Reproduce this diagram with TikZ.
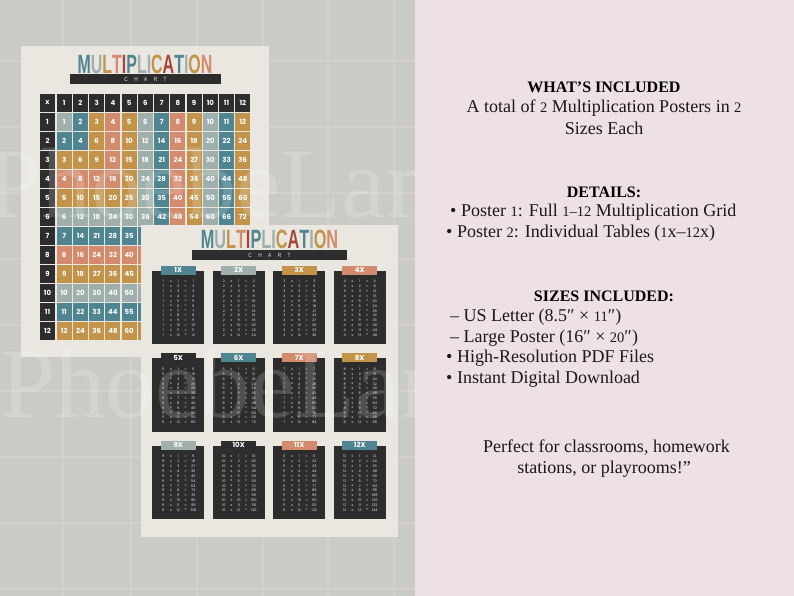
\documentclass[tikz,border=0pt]{standalone}
\usepackage{fontspec}
\setmainfont{Liberation Serif}
\newfontfamily\cellfont{Poppins}
\newfontfamily\titlefont{Liberation Sans}
\definecolor{wallbg}{HTML}{CBCBC6}
\definecolor{wallline}{HTML}{D4D1CD}
\definecolor{pinkbg}{HTML}{EEE1E3}
\definecolor{paper}{HTML}{EAE7E1}
\definecolor{inkdark}{HTML}{2D2D2D}
\definecolor{sagec}{HTML}{9FB0AC}
\definecolor{tealc}{HTML}{4F8491}
\definecolor{goldc}{HTML}{C3934A}
\definecolor{coralc}{HTML}{D48A6C}
\definecolor{redc}{HTML}{A8453A}
\newcommand{\multititle}{\textcolor{tealc}{M}\textcolor{sagec}{U}\textcolor{goldc}{L}\textcolor{coralc}{T}\textcolor{redc}{I}\textcolor{tealc}{P}\textcolor{sagec}{L}\textcolor{sagec}{I}\textcolor{goldc}{C}\textcolor{redc}{A}\textcolor{tealc}{T}\textcolor{sagec}{I}\textcolor{goldc}{O}\textcolor{coralc}{N}}
\newcommand{\chartword}{C\hspace{8pt}H\hspace{8pt}A\hspace{8pt}R\hspace{8pt}T}
\newcommand{\lowdigit}[1]{{\fontsize{14.5}{18}\selectfont #1}}
\tikzset{
  poster/.style={fill=paper, draw=none},
  band/.style={fill=inkdark, draw=none},
  celltext/.style={font=\cellfont\bfseries\fontsize{7}{7}\selectfont, text=white, inner sep=0},
  tabletext/.style={font=\cellfont\fontsize{3.5}{4}\selectfont, text=paper, inner sep=0},
  tabtext/.style={font=\cellfont\bfseries\fontsize{7}{7}\selectfont, text=white, inner sep=0},
  infotext/.style={font=\fontsize{18}{18}\selectfont, text=black!90, inner sep=0},
  infohead/.style={font=\bfseries\fontsize{16}{18}\selectfont, text=black, inner sep=0},
  charttext/.style={font=\titlefont\fontsize{6}{6}\selectfont, text=paper, inner sep=0, xscale=0.8},
  bigtitle/.style={font=\titlefont\bfseries\fontsize{24}{24}\selectfont, inner sep=0, xscale=0.665, yscale=1.1},
  watermark/.style={font=\fontsize{100}{100}\selectfont, text=white, text opacity=0.17, inner sep=0, anchor=base west}
}
\begin{document}
\begin{tikzpicture}[x=1pt, y=-1pt]
  \useasboundingbox (0,0) rectangle (794,596);
  % backgrounds
  \fill[pinkbg] (0,0) rectangle (794,596);
  \fill[wallbg] (0,0) rectangle (415,596);
  \foreach \x in {63,131,197,263,328,394} \fill[wallline] (\x-1,0) rectangle (\x+1,596);
  \foreach \y in {61,127,193,259,325,391,457,523,589} \fill[wallline] (0,\y-1) rectangle (415,\y+1);
  % first poster
  \fill[poster] (21,46) rectangle (269,357);
  \node[bigtitle] (titleone) at (145,64.5) {\multititle};
  \fill[band] (70,74) rectangle (221,84);
  \node[charttext] (chartone) at (145.5,79.2) {\chartword};
  % grid, colour goes by the larger factor
  \def\stripe{{"sagec","tealc","goldc","coralc","goldc","sagec","tealc","coralc","goldc","sagec","tealc","goldc"}}
  \foreach \c in {1,...,12} {
    \pgfmathsetmacro{\cx}{56.7+(\c-1)*16.24}
    \fill[inkdark] (\cx,94.3) rectangle (\cx+15,111.6);
    \node[celltext] (head\c) at (\cx+7.5,103) {\c};
    \fill[inkdark] (40,94.3+19*\c) rectangle (55,111.6+19*\c);
    \node[celltext] (side\c) at (47.5,103+19*\c) {\c};
    \foreach \r in {1,...,12} {
      \pgfmathtruncatemacro{\m}{max(\c,\r)}
      \pgfmathtruncatemacro{\v}{\c*\r}
      \pgfmathtruncatemacro{\hid}{and(\r>6,\c>5)}
      \pgfmathsetmacro{\cy}{94.3+19*\r}
      \pgfmathparse{\stripe[\m-1]}
      \edef\cellcol{\pgfmathresult}
      \fill[\cellcol] (\cx,\cy) rectangle (\cx+15,\cy+17.3);
      % the second poster covers these
      \ifnum\hid=0
        \node[celltext] (cell\r-\c) at (\cx+7.5,\cy+8.7) {\v};
      \fi
    }
  }
  \fill[inkdark] (40,94.3) rectangle (55,111.6);
  \node[celltext] (corner) at (47.5,103) {x};
  % second poster
  \fill[poster] (141,225) rectangle (398,537);
  \node[bigtitle, xscale=1.02] (titletwo) at (269.5,239.5) {\multititle};
  \fill[band] (192,250) rectangle (347,260);
  \node[charttext] (charttwo) at (269.5,255.2) {\chartword};
  % small tables: number/column/row/tab colour
  \foreach \n/\col/\row/\tabcol in {1/0/0/tealc,2/1/0/sagec,3/2/0/goldc,4/3/0/coralc,5/0/1/inkdark,6/1/1/tealc,7/2/1/coralc,8/3/1/goldc,9/0/2/sagec,10/1/2/inkdark,11/2/2/coralc,12/3/2/tealc} {
    \pgfmathsetmacro{\px}{152.3+60.5*\col}
    \pgfmathsetmacro{\py}{270.7+87.5*\row}
    \fill[inkdark] (\px,\py) rectangle (\px+51.7,\py+73.6);
    \fill[\tabcol] (\px+8.4,\py-5) rectangle (\px+43.4,\py+4);
    \node[tabtext] (tab\n) at (\px+25.9,\py-0.5) {\n X};
    \foreach \k in {1,...,12} {
      \pgfmathtruncatemacro{\res}{\n*\k}
      \pgfmathsetmacro{\ky}{\py+11+4.85*(\k-1)}
      \node[tabletext] (a\n-\k) at (\px+11,\ky) {\n};
      \node[tabletext] (x\n-\k) at (\px+18.7,\ky) {x};
      \node[tabletext] (b\n-\k) at (\px+26,\ky) {\k};
      \node[tabletext] (e\n-\k) at (\px+33.3,\ky) {=};
      \node[tabletext] (r\n-\k) at (\px+41,\ky) {\res};
    }
  }
  % watermark
  \begin{scope}
    \clip (0,0) rectangle (415,596);
    \node[watermark] (markone) at (-14,217) {PhoebeLane};
    \node[watermark] (marktwo) at (0,417) {PhoebeLane};
  \end{scope}
  % right side text
  \node[infohead] (whathead) at (604,87) {WHAT’S INCLUDED};
  \node[infotext] (whatone) at (604,108) {A total of \lowdigit{2} Multiplication Posters in \lowdigit{2}};
  \node[infotext] (whattwo) at (604,128) {Sizes Each};
  \node[infohead] (dethead) at (604,192) {DETAILS:};
  \node[infotext, anchor=west] (detone) at (450,212) {• Poster \lowdigit{1}: Full \lowdigit{1–12} Multiplication Grid};
  \node[infotext, anchor=west] (dettwo) at (446,233) {• Poster \lowdigit{2}: Individual Tables (\lowdigit{1}x–\lowdigit{12}x)};
  \node[infohead] (sizehead) at (604,296) {SIZES INCLUDED:};
  \node[infotext, anchor=west] (sizeone) at (450,317) {– US Letter (8.5″ × \lowdigit{11}″)};
  \node[infotext, anchor=west] (sizetwo) at (450,338) {– Large Poster (16″ × \lowdigit{20}″)};
  \node[infotext, anchor=west] (sizethree) at (446,358) {• High-Resolution PDF Files};
  \node[infotext, anchor=west] (sizefour) at (446,379) {• Instant Digital Download};
  \node[infotext] (perfone) at (606.5,448) {Perfect for classrooms, homework};
  \node[infotext] (perftwo) at (604,469) {stations, or playrooms!”};
\end{tikzpicture}
\end{document}
